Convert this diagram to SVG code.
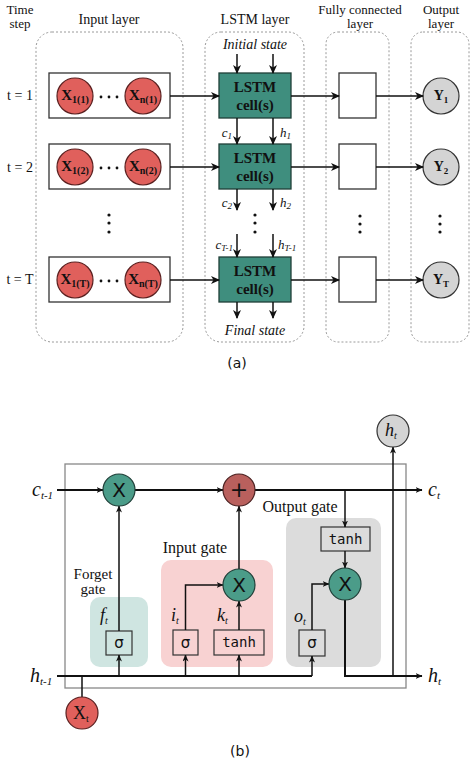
<svg xmlns="http://www.w3.org/2000/svg" width="474" height="762" viewBox="0 0 474 762">
<style>
text{font-family:"Liberation Serif","Times New Roman",serif;fill:#111}
.lbl{font-size:14px}
.hd{font-size:13px}
.it{font-style:italic}
.b{font-weight:bold}
.dash{fill:none;stroke:#9a9a9a;stroke-width:1;stroke-dasharray:2 2}
.ibox{fill:#fff;stroke:#333;stroke-width:1.3}
.xc{fill:#e0605c;stroke:#5a2020;stroke-width:1.2}
.yc{fill:#d4d4d4;stroke:#333;stroke-width:1.2}
.cell{fill:#3f8e7e;stroke:#1f3f38;stroke-width:1.3}
.ln{fill:none;stroke:#111;stroke-width:1.5}
.ln2{fill:none;stroke:#111;stroke-width:2}
.gc{fill:#4b9c89;stroke:#1f3f38;stroke-width:1.2}
.pc{fill:#b9605d;stroke:#4a2020;stroke-width:1.2}
.sb{stroke:#333;stroke-width:1.2}
.mono{font-family:"DejaVu Sans Mono","Liberation Mono",monospace;font-size:14px}
.sans{font-family:"DejaVu Sans","Liberation Sans",sans-serif}
.dot{fill:#111}
</style>
<defs>
<marker id="ah" markerWidth="9" markerHeight="8" refX="8" refY="4" orient="auto" markerUnits="userSpaceOnUse">
<path d="M0,0 L9,4 L0,8 L2.5,4 z" fill="#111"/>
</marker>
<marker id="as" markerWidth="7" markerHeight="6" refX="6.5" refY="3" orient="auto" markerUnits="userSpaceOnUse">
<path d="M0,0 L7,3 L0,6 L2,3 z" fill="#111"/>
</marker>
</defs>

<!-- ===== Part (a) ===== -->
<g id="headers">
<text class="hd" x="20" y="14" text-anchor="middle">Time</text>
<text class="hd" x="20" y="28" text-anchor="middle">step</text>
<text class="lbl" x="109" y="24" text-anchor="middle">Input layer</text>
<text class="lbl" x="255" y="24" text-anchor="middle">LSTM layer</text>
<text class="hd" x="360" y="14" text-anchor="middle">Fully connected</text>
<text class="hd" x="360" y="28" text-anchor="middle">layer</text>
<text class="hd" x="441" y="14" text-anchor="middle">Output</text>
<text class="hd" x="441" y="28" text-anchor="middle">layer</text>
<text class="lbl" x="20" y="100" text-anchor="middle">t = 1</text>
<text class="lbl" x="20" y="172" text-anchor="middle">t = 2</text>
<text class="lbl" x="20" y="284" text-anchor="middle">t = T</text>
</g>

<g id="layer-boxes">
<rect class="dash" x="36" y="32" width="147" height="310" rx="16"/>
<rect class="dash" x="205" y="32" width="99" height="310" rx="16"/>
<rect class="dash" x="326" y="32" width="63" height="310" rx="12"/>
<rect class="dash" x="411" y="32" width="58" height="310" rx="12"/>
</g>

<g id="input-1">
<rect class="ibox" x="49" y="73" width="121" height="45"/>
<circle class="xc" cx="75" cy="96" r="18"/>
<circle class="xc" cx="143" cy="96" r="18"/>
<text class="b" x="75" y="100" text-anchor="middle" font-size="15">X<tspan font-size="10" dy="3">1(1)</tspan></text>
<text class="b" x="143" y="100" text-anchor="middle" font-size="15">X<tspan font-size="10" dy="3">n(1)</tspan></text>
<circle class="dot" cx="101" cy="97" r="1.4"/><circle class="dot" cx="109" cy="97" r="1.4"/><circle class="dot" cx="117" cy="97" r="1.4"/>
</g>
<g id="input-2">
<rect class="ibox" x="49" y="144" width="121" height="45"/>
<circle class="xc" cx="75" cy="167" r="18"/>
<circle class="xc" cx="143" cy="167" r="18"/>
<text class="b" x="75" y="171" text-anchor="middle" font-size="15">X<tspan font-size="10" dy="3">1(2)</tspan></text>
<text class="b" x="143" y="171" text-anchor="middle" font-size="15">X<tspan font-size="10" dy="3">n(2)</tspan></text>
<circle class="dot" cx="101" cy="168" r="1.4"/><circle class="dot" cx="109" cy="168" r="1.4"/><circle class="dot" cx="117" cy="168" r="1.4"/>
</g>
<g id="input-dots">
<circle class="dot" cx="109" cy="215" r="1.6"/><circle class="dot" cx="109" cy="223" r="1.6"/><circle class="dot" cx="109" cy="232" r="1.6"/>
</g>
<g id="input-T">
<rect class="ibox" x="49" y="257" width="121" height="45"/>
<circle class="xc" cx="75" cy="280" r="18"/>
<circle class="xc" cx="143" cy="280" r="18"/>
<text class="b" x="75" y="284" text-anchor="middle" font-size="15">X<tspan font-size="10" dy="3">1(T)</tspan></text>
<text class="b" x="143" y="284" text-anchor="middle" font-size="15">X<tspan font-size="10" dy="3">n(T)</tspan></text>
<circle class="dot" cx="101" cy="281" r="1.4"/><circle class="dot" cx="109" cy="281" r="1.4"/><circle class="dot" cx="117" cy="281" r="1.4"/>
</g>

<g id="lstm-cells">
<text class="lbl it" x="255" y="49" text-anchor="middle">Initial state</text>
<rect class="cell" x="219" y="73" width="72" height="45"/>
<text class="b" x="255" y="92" text-anchor="middle" font-size="15">LSTM</text>
<text class="b" x="255" y="110" text-anchor="middle" font-size="15">cell(s)</text>
<rect class="cell" x="219" y="144" width="72" height="45"/>
<text class="b" x="255" y="163" text-anchor="middle" font-size="15">LSTM</text>
<text class="b" x="255" y="181" text-anchor="middle" font-size="15">cell(s)</text>
<circle class="dot" cx="255" cy="215" r="1.6"/><circle class="dot" cx="255" cy="223" r="1.6"/><circle class="dot" cx="255" cy="232" r="1.6"/>
<rect class="cell" x="219" y="257" width="72" height="45"/>
<text class="b" x="255" y="276" text-anchor="middle" font-size="15">LSTM</text>
<text class="b" x="255" y="294" text-anchor="middle" font-size="15">cell(s)</text>
<text class="lbl it" x="255" y="335" text-anchor="middle">Final state</text>
<text class="it" x="232" y="137" text-anchor="end" font-size="13">c<tspan font-size="9" dy="2">1</tspan></text>
<text class="it" x="280" y="137" font-size="13">h<tspan font-size="9" dy="2">1</tspan></text>
<text class="it" x="232" y="207" text-anchor="end" font-size="13">c<tspan font-size="9" dy="2">2</tspan></text>
<text class="it" x="280" y="207" font-size="13">h<tspan font-size="9" dy="2">2</tspan></text>
<text class="it" x="233" y="249" text-anchor="end" font-size="13">c<tspan font-size="9" dy="2">T-1</tspan></text>
<text class="it" x="278" y="249" font-size="13">h<tspan font-size="9" dy="2">T-1</tspan></text>
</g>

<g id="fc-layer">
<rect class="ibox" x="339" y="73" width="37" height="45"/>
<rect class="ibox" x="339" y="144" width="37" height="45"/>
<circle class="dot" cx="360" cy="216" r="1.6"/><circle class="dot" cx="360" cy="224" r="1.6"/><circle class="dot" cx="360" cy="232" r="1.6"/>
<rect class="ibox" x="339" y="257" width="37" height="45"/>
</g>

<g id="output-layer">
<circle class="yc" cx="441" cy="96" r="18"/>
<text class="b" x="441" y="100" text-anchor="middle" font-size="14">Y<tspan font-size="9" dy="3">1</tspan></text>
<circle class="yc" cx="441" cy="167" r="18"/>
<text class="b" x="441" y="171" text-anchor="middle" font-size="14">Y<tspan font-size="9" dy="3">2</tspan></text>
<circle class="dot" cx="440" cy="216" r="1.6"/><circle class="dot" cx="440" cy="224" r="1.6"/><circle class="dot" cx="440" cy="232" r="1.6"/>
<circle class="yc" cx="441" cy="280" r="18"/>
<text class="b" x="441" y="284" text-anchor="middle" font-size="14">Y<tspan font-size="9" dy="3">T</tspan></text>
</g>

<g id="connectors-a">
<path class="ln" d="M237,54 V73" marker-end="url(#ah)"/>
<path class="ln" d="M273,54 V73" marker-end="url(#ah)"/>
<path class="ln" d="M237,118 V144" marker-end="url(#ah)"/>
<path class="ln" d="M273,118 V144" marker-end="url(#ah)"/>
<path class="ln" d="M237,189 V210" marker-end="url(#ah)"/>
<path class="ln" d="M273,189 V210" marker-end="url(#ah)"/>
<path class="ln" d="M237,234 V257" marker-end="url(#ah)"/>
<path class="ln" d="M273,234 V257" marker-end="url(#ah)"/>
<path class="ln" d="M237,302 V318" marker-end="url(#ah)"/>
<path class="ln" d="M273,302 V318" marker-end="url(#ah)"/>
<path class="ln" d="M170,96 H219" marker-end="url(#ah)"/>
<path class="ln" d="M170,167 H219" marker-end="url(#ah)"/>
<path class="ln" d="M170,280 H219" marker-end="url(#ah)"/>
<path class="ln" d="M291,96 H339" marker-end="url(#ah)"/>
<path class="ln" d="M291,167 H339" marker-end="url(#ah)"/>
<path class="ln" d="M291,280 H339" marker-end="url(#ah)"/>
<path class="ln" d="M376,96 H423" marker-end="url(#ah)"/>
<path class="ln" d="M376,167 H423" marker-end="url(#ah)"/>
<path class="ln" d="M376,280 H423" marker-end="url(#ah)"/>
</g>

<text class="sans" x="237" y="368" text-anchor="middle" font-size="14">(a)</text>

<!-- ===== Part (b) ===== -->
<g id="cell-frame">
<rect x="65" y="464" width="341" height="224" fill="#fff" stroke="#888" stroke-width="1.3"/>
</g>

<g id="forget-gate">
<rect x="90" y="597" width="58" height="70" rx="10" fill="#cfe5e1"/>
<text x="93" y="579" text-anchor="middle" font-size="15">Forget</text>
<text x="93" y="594" text-anchor="middle" font-size="15">gate</text>
<rect class="sb" x="106" y="631" width="26" height="24" fill="#cfe5e1"/>
<text class="sans" x="119" y="648" text-anchor="middle" font-size="15">σ</text>
<text class="it" x="100" y="621" font-size="18">f<tspan font-size="10" dy="3">t</tspan></text>
</g>

<g id="input-gate">
<rect x="161" y="560" width="112" height="107" rx="10" fill="#f8d2d2"/>
<text x="195" y="553" text-anchor="middle" font-size="16">Input gate</text>
<rect class="sb" x="173" y="630" width="25" height="25" fill="#f8d2d2"/>
<text class="sans" x="185.5" y="648" text-anchor="middle" font-size="15">σ</text>
<rect class="sb" x="214" y="630" width="50" height="25" fill="#f8d2d2"/>
<text class="mono" x="239" y="647" text-anchor="middle">tanh</text>
<text class="it" x="171" y="621" font-size="18">i<tspan font-size="10" dy="3">t</tspan></text>
<text class="it" x="217" y="621" font-size="18">k<tspan font-size="10" dy="3">t</tspan></text>
</g>

<g id="output-gate">
<rect x="286" y="518" width="95" height="149" rx="10" fill="#dcdcdc"/>
<text x="300" y="512" text-anchor="middle" font-size="16">Output gate</text>
<rect class="sb" x="321" y="527" width="49" height="24" fill="#dcdcdc"/>
<text class="mono" x="345.5" y="544" text-anchor="middle">tanh</text>
<rect class="sb" x="299" y="630" width="26" height="26" fill="#dcdcdc"/>
<text class="sans" x="312" y="648" text-anchor="middle" font-size="15">σ</text>
<text class="it" x="294" y="622" font-size="18">o<tspan font-size="10" dy="3">t</tspan></text>
</g>

<g id="connectors-b">
<path class="ln2" d="M57,490 H103" marker-end="url(#as)"/>
<path class="ln2" d="M135,490 H223" marker-end="url(#as)"/>
<path class="ln2" d="M255,490 H422" marker-end="url(#as)"/>
<path class="ln" d="M345,490 V527" marker-end="url(#as)"/>
<path class="ln" d="M345,551 V568" marker-end="url(#as)"/>
<path class="ln2" d="M345,600 V676 H422" marker-end="url(#as)"/>
<path class="ln" d="M393,676 V447" marker-end="url(#as)"/>
<path class="ln2" d="M57,676 H312"/>
<path class="ln" d="M312,676 V656" marker-end="url(#as)"/>
<path class="ln" d="M312,630 V584 H329" marker-end="url(#as)"/>
<path class="ln" d="M239,569 V506" marker-end="url(#as)"/>
<path class="ln" d="M185.5,676 V655" marker-end="url(#as)"/>
<path class="ln" d="M185.5,630 V585 H223" marker-end="url(#as)"/>
<path class="ln" d="M239,676 V655" marker-end="url(#as)"/>
<path class="ln" d="M239,630 V601" marker-end="url(#as)"/>
<path class="ln" d="M119,676 V655" marker-end="url(#as)"/>
<path class="ln" d="M119,631 V506" marker-end="url(#as)"/>
<path class="ln" d="M82,697 V676"/>
</g>

<g id="mult-forget">
<circle class="gc" cx="119" cy="490" r="16"/>
<text class="sans" x="119" y="497" text-anchor="middle" font-size="20">X</text>
</g>
<g id="add-cell">
<circle class="pc" cx="239" cy="490" r="16"/>
<text class="sans" x="239" y="497" text-anchor="middle" font-size="22">+</text>
</g>
<g id="mult-input">
<circle class="gc" cx="239" cy="585" r="16"/>
<text class="sans" x="239" y="592" text-anchor="middle" font-size="20">X</text>
</g>
<g id="mult-output">
<circle class="gc" cx="345" cy="584" r="16"/>
<text class="sans" x="345" y="591" text-anchor="middle" font-size="20">X</text>
</g>
<g id="ht-out">
<circle class="yc" cx="393" cy="431" r="16"/>
<text class="it" x="391" y="436" text-anchor="middle" font-size="18">h<tspan font-size="10" dy="3">t</tspan></text>
</g>
<g id="xt-in">
<circle class="xc" cx="82" cy="713" r="16"/>
<text x="81" y="719" text-anchor="middle" font-size="18">X<tspan font-size="10" dy="3">t</tspan></text>
</g>

<g id="io-labels">
<text class="it" x="32" y="496" font-size="20">c<tspan font-size="11" dy="3">t-1</tspan></text>
<text class="it" x="428" y="496" font-size="20">c<tspan font-size="11" dy="3">t</tspan></text>
<text class="it" x="30" y="682" font-size="20">h<tspan font-size="11" dy="3">t-1</tspan></text>
<text class="it" x="428" y="682" font-size="20">h<tspan font-size="11" dy="3">t</tspan></text>
</g>

<text class="sans" x="240" y="756" text-anchor="middle" font-size="14">(b)</text>
</svg>
